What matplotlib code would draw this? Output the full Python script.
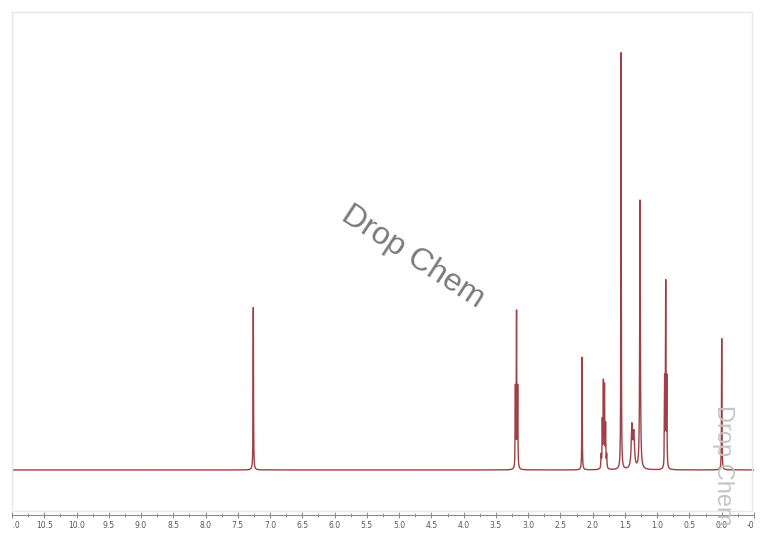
import numpy as np
import matplotlib
matplotlib.use("Agg")
from matplotlib import pyplot as plt
from matplotlib.patches import Rectangle
from matplotlib.ticker import FixedLocator, FormatStrFormatter
from matplotlib.transforms import Bbox, TransformedBbox

# peak list: shift (ppm), height (rel. to 1.56 line), half-width (ppm)
shifts = [7.26,
          3.198, 3.18, 3.162,
          2.165,
          1.868, 1.851, 1.834, 1.817, 1.800, 1.783,
          1.56,
          1.392, 1.362,
          1.266,
          0.885, 0.868, 0.851,
          0.0]
heights = [0.39,
           0.19, 0.37, 0.19,
           0.27,
           0.03, 0.11, 0.20, 0.19, 0.10, 0.03,
           1.0,
           0.10, 0.08,
           0.645,
           0.21, 0.44, 0.21,
           0.315]
widths = [0.0035,
          0.0035, 0.0035, 0.0035,
          0.0035,
          0.004, 0.004, 0.004, 0.004, 0.004, 0.004,
          0.0035,
          0.012, 0.012,
          0.006,
          0.0035, 0.0035, 0.0035,
          0.0035]

major_ticks = [11.0 - 0.5 * i for i in range(24)]
minor_ticks = [11.0 - 0.25 * i for i in range(47)]

ppm = np.linspace(-0.55, 11.05, 40000)
spec = np.zeros_like(ppm)
for s, h, w in zip(shifts, heights, widths):
  spec += h / (1 + ((ppm - s) / w) ** 2)

W, H = 768, 542
fig = plt.figure(figsize=(W / 100, H / 100), dpi=100)
fig.patch.set_facecolor("white")

# light frame round the plot area
fig.patches.append(Rectangle((12 / W, 1 - 511 / H), 740 / W, 499 / H,
                             transform=fig.transFigure, fill=False,
                             edgecolor="#e8e8e8", linewidth=1.0))

ax = fig.add_axes([12 / W, 1 - 515 / H, 742 / W, 503 / H])
ax.plot(ppm, spec, color="#9e4046", linewidth=1.0)
ax.set_xlim(11.0, -0.5)
ax.set_ylim(-0.108, 1.098)
ax.patch.set_alpha(0)

for side in ["top", "left", "right"]:
  ax.spines[side].set_visible(False)
ax.spines["bottom"].set_color("#8a8a8a")
ax.spines["bottom"].set_linewidth(0.8)
ax.set_yticks([])
ax.xaxis.set_major_locator(FixedLocator(major_ticks))
ax.xaxis.set_minor_locator(FixedLocator(minor_ticks))
ax.xaxis.set_major_formatter(FormatStrFormatter("%.1f"))
ax.tick_params(axis="x", which="major", direction="inout", length=5,
               width=0.7, color="#8a8a8a", labelsize=5.5,
               labelcolor="#555555", pad=2)
ax.tick_params(axis="x", which="minor", direction="inout", length=3,
               width=0.6, color="#8a8a8a")

# watermarks
fig.text(413 / W, 1 - 257 / H, "Drop Chem", rotation=-33,
         rotation_mode="anchor", ha="center", va="center",
         fontsize=23, color="#7a7a7a", family="Liberation Sans")
fig.text(723 / W, 1 - 405 / H, "Drop Chem", rotation=-90,
         rotation_mode="anchor", ha="left", va="center",
         fontsize=17, color="#c4c4c4", family="Liberation Sans")

fig.canvas.draw()
clip = TransformedBbox(Bbox([[12 / W, 0], [754 / W, 1]]), fig.transFigure)
for tick in ax.xaxis.get_major_ticks():
  tick.label1.set_clip_on(True)
  tick.label1.set_clip_box(clip)

fig.savefig("out.png", dpi=100)
